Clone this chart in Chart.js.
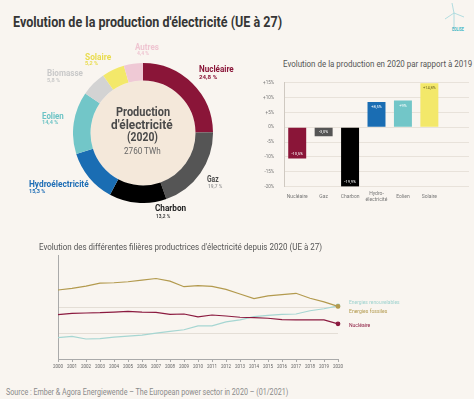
<!DOCTYPE html>
<html><head><meta charset="utf-8">
<script src="https://cdn.jsdelivr.net/npm/chart.js@4/dist/chart.umd.min.js"></script>
<style>
html,body{margin:0;padding:0;background:#f9f5f0;}
#root{position:relative;width:474px;height:399px;overflow:hidden;background:#f9f5f0;font-family:Roboto,'Liberation Sans',sans-serif;}
canvas{position:absolute;}
.t{position:absolute;white-space:nowrap;line-height:1;transform-origin:0 50%;}
</style></head><body><div id="root">
<svg style="position:absolute;left:440px;top:3px" width="30" height="28" viewBox="0 0 30 28">
  <g stroke="#9fd6da" stroke-width="0.8" fill="none">
    <line x1="14" y1="10" x2="14" y2="26"/>
    <line x1="14" y1="10" x2="12" y2="0"/>
    <line x1="14" y1="10" x2="5" y2="16"/>
    <line x1="14" y1="10" x2="24" y2="14"/>
  </g>
</svg>
<canvas id="donut" width="140" height="140" style="left:73px;top:63px"></canvas>
<canvas id="bars" width="224" height="140" style="left:250px;top:70px"></canvas>
<canvas id="lines" width="474" height="130" style="left:0;top:250px"></canvas>
</div>
<script>
// ---------- DATA ----------
const donutLabels = ['Nucléaire','Gaz','Charbon','Hydroélectricité','Eolien','Biomasse','Solaire','Autres'];
const donutValues = [24.8, 19.7, 13.2, 12.3, 14.4, 5.8, 5.2, 4.4];
const donutPctText = ['24,8 %','19,7 %','13,2 %','15,3 %','14,4 %','5,8 %','5,2 %','4,4 %'];
const donutColors = ['#8a1538','#555555','#000000','#1a6db3','#72c6c8','#d3d3d3','#f3e86a','#efc9d5'];

const barCategories = ['Nucléaire','Gaz','Charbon',['Hydro-','électricité'],'Eolien','Solaire',''];
const barValues = [-10.5, -3.0, -19.9, 8.5, 9, 14.8, null];
const barValueLabels = ['-10,5%','-3,0%','-19,9%','+8,5%','+9%','+14,8%',''];
const barColors = ['#8a1538','#555555','#000000','#1a6db3','#72c6c8','#f3e86a','#ffffff'];

const years = ['2000','2001','2002','2003','2004','2005','2006','2007','2008','2009','2010',
               '2011','2012','2013','2014','2015','2016','2017','2018','2019','2020'];
const renewables = [411,436,385,392,423,442,461,499,531,563,639,639,715,753,816,842,861,867,930,968,1025];
const fossil     = [1329,1361,1405,1462,1469,1488,1520,1551,1500,1393,1412,1399,1342,1253,1165,1215,1241,1266,1171,1101,1013];
const nuclear    = [854,880,886,892,905,918,905,899,861,867,810,848,829,804,797,785,759,753,753,753,677];

// ---------- TEXT ----------
const root = document.getElementById('root');
function txt(s, x, y, size, weight, color, w){
  const d = document.createElement('div');
  d.className = 't';
  d.textContent = s;
  d.style.left = x + 'px';
  d.style.top = y + 'px';
  d.style.fontSize = size + 'px';
  d.style.fontWeight = weight;
  d.style.color = color;
  root.appendChild(d);
  const h = d.offsetHeight, aw = d.offsetWidth;
  const k = w ? w / aw : 1;
  d.style.transform = 'translateY(-50%) scaleX(' + k + ')';
  return d;
}
txt('Evolution de la production d\'électricité (UE à 27)', 13, 23, 14.5, 700, '#363636', 269);
txt('EOLISE', 452, 30, 4.5, 700, '#3fb5c4', 12);

// donut labels
const dl = [
 [199,69, 199,78, 35,18,'#8a1538','#8a1538'],
 [207,179,208,187,12,14,'#4a4a4a','#a0a0a0'],
 [155,208,156,217,31,14,'#222222','#444444'],
 [29,184, 29,192, 60,16,'#1d6db5','#1d6db5'],
 [42,116, 42,123, 22,16,'#6cc3c5','#6cc3c5'],
 [47,73,  47,81,  36,13,'#c9c9c9','#c9c9c9'],
 [85,57,  85,64,  26,13,'#e9dc4e','#e9dc4e'],
 [135,47, 137,54, 24,12,'#efc5d1','#efc5d1']
];
dl.forEach((p,i)=>{
  txt(donutLabels[i], p[0], p[1], 9, 700, p[6], p[4]);
  txt(donutPctText[i], p[2], p[3], 5.5, 700, p[7], p[5]);
});
txt('Production', 116, 111, 13, 700, '#4a4a4a', 54);
txt('d\'électricité', 111, 124, 13, 700, '#4a4a4a', 62);
txt('(2020)', 127, 136, 13, 700, '#4a4a4a', 31);
txt('2760 TWh', 124, 151, 9, 400, '#666666', 37);

txt('Evolution de la production en 2020 par rapport à 2019', 283, 64, 9.5, 400, '#555555', 189);
txt('Evolution des différentes filières productrices d\'électricité depuis 2020 (UE à 27)', 39, 247, 9.5, 400, '#555555', 283);
txt('Energies renouvelables', 349, 302, 6, 400, '#9fd3cf', 51);
txt('Energies fossiles', 349, 311, 6, 400, '#b39a4e', 38);
txt('Nucléaire', 349, 325, 6, 400, '#8b1a3f', 21);
txt('Source : Ember & Agora Energiewende – The European power sector in 2020 – (01/2021)', 6, 392, 8.5, 400, '#8a8a8a', 282);

// ---------- CHARTS ----------
Chart.defaults.font.family = 'Roboto, "Liberation Sans", sans-serif';
Chart.defaults.animation = false;

const innerFill = {
  id:'innerFill',
  beforeDatasetsDraw(chart){
    const arc = chart.getDatasetMeta(0).data[0];
    if(!arc) return;
    const ctx = chart.ctx;
    ctx.save();
    ctx.fillStyle = '#f4e8da';
    ctx.beginPath();
    ctx.arc(arc.x, arc.y, arc.innerRadius, 0, Math.PI*2);
    ctx.fill();
    ctx.restore();
  }
};
new Chart(document.getElementById('donut'), {
  type:'doughnut',
  data:{labels:donutLabels, datasets:[{data:donutValues, backgroundColor:donutColors, borderWidth:0}]},
  options:{responsive:false, cutout:'75%', plugins:{legend:{display:false}, tooltip:{enabled:false}}, layout:{padding:0}},
  plugins:[innerFill]
});

const barLabelPlugin = {
  id:'barLabels',
  afterDatasetsDraw(chart){
    const ctx = chart.ctx;
    const meta = chart.getDatasetMeta(0);
    ctx.save();
    ctx.font = '4px Roboto, sans-serif';
    ctx.textAlign = 'center';
    ctx.textBaseline = 'middle';
    meta.data.forEach((el,i)=>{
      const v = barValues[i];
      if(v === null) return;
      const y = v < 0 ? el.y - 4 : el.y + 5;
      ctx.fillStyle = i === 5 ? '#6b6320' : '#ffffff';
      ctx.fillText(barValueLabels[i], el.x, y);
    });
    ctx.restore();
  }
};
new Chart(document.getElementById('bars'), {
  type:'bar',
  data:{labels:barCategories, datasets:[{data:barValues, backgroundColor:barColors, barPercentage:0.68, categoryPercentage:1}]},
  options:{
    responsive:false,
    layout:{padding:{top:9.5,right:5,left:0,bottom:0}},
    plugins:{legend:{display:false}, tooltip:{enabled:false}},
    scales:{
      x:{grid:{display:false, drawTicks:false}, border:{display:false},
         ticks:{font:{size:5}, color:'#777', padding:7, maxRotation:0, autoSkip:false, crossAlign:'center'},
         afterFit:s=>{s.height=23.3;}},
      y:{min:-20, max:15, ticks:{stepSize:5, font:{size:4.5}, color:'#777', padding:10,
            callback:v=> v>0 ? '+'+v+'%' : v+'%'},
         grid:{color:'#e8e2da', drawTicks:false}, border:{color:'#cfc9c1'},
         afterFit:s=>{s.width=34;}}
    }
  },
  plugins:[barLabelPlugin]
});

const lastOnly = ctx => ctx.dataIndex === years.length-1 ? 1.8 : 0;
new Chart(document.getElementById('lines'), {
  type:'line',
  data:{labels:years, datasets:[
    {data:fossil, borderColor:'#b39a4e', backgroundColor:'#b39a4e', borderWidth:1.2, pointRadius:lastOnly, tension:0},
    {data:nuclear, borderColor:'#8b1a3f', backgroundColor:'#8b1a3f', borderWidth:1.2, pointRadius:lastOnly, tension:0},
    {data:renewables, borderColor:'#a6d6d2', backgroundColor:'#8fcfca', borderWidth:1.2, pointRadius:lastOnly, tension:0}
  ]},
  options:{
    responsive:false,
    layout:{padding:{left:58,right:136,top:5,bottom:0}},
    plugins:{legend:{display:false}, tooltip:{enabled:false}},
    scales:{
      x:{offset:false, grid:{drawOnChartArea:false, tickLength:3, color:'#aaa'}, border:{color:'#aaa'},
         ticks:{font:{size:4.5}, color:'#666', padding:2, autoSkip:false, maxRotation:0},
         afterFit:s=>{s.height=21;}},
      y:{min:0, max:2000, ticks:{display:false, stepSize:500},
         grid:{drawTicks:false, color:c=> (c.tick && (c.tick.value===500 || c.tick.value===1000)) ? '#e4ded6' : 'rgba(0,0,0,0)'},
         border:{color:'#aaa'}, afterFit:s=>{s.width=0;}}
    }
  }
});
</script>
</body></html>
